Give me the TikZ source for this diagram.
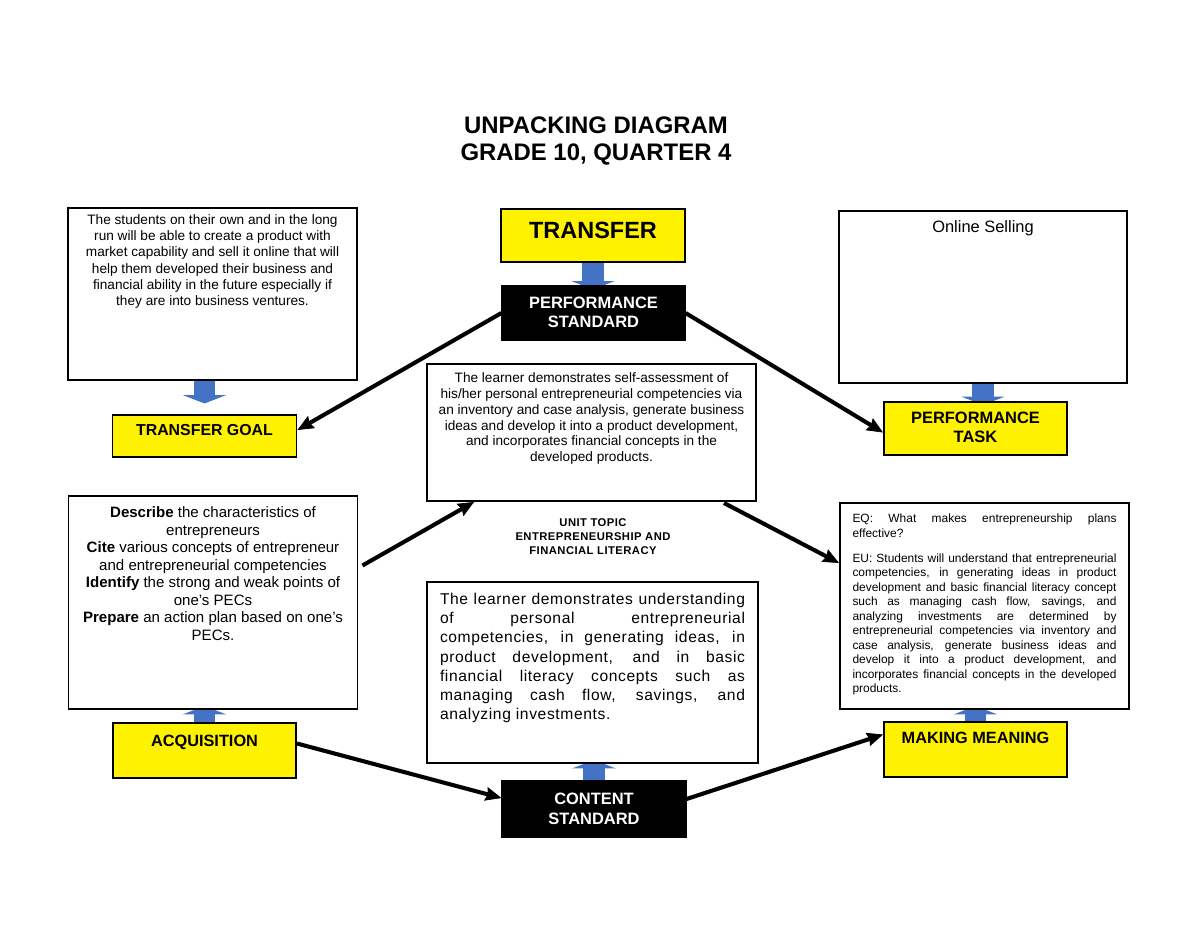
\documentclass[tikz,border=0pt]{standalone}
\usepackage{fontspec}
\setmainfont{Liberation Sans}
\newfontfamily\spacedsans[LetterSpace=4]{Liberation Sans}
\usetikzlibrary{arrows.meta,calc,backgrounds}
\definecolor{arrowblue}{HTML}{4472C4}
\newdimen\pxu \pxu=0.025cm
\newcommand{\inbox}[4]{\parbox[c][#2\pxu][t]{#1\pxu}{\vspace*{#3pt}#4}}
\newcommand{\jline}[1]{\makebox[\linewidth][s]{#1}\\}
\begin{document}
\begin{tikzpicture}[
	x=0.025cm, y=-0.025cm,
	thick
]
\tikzset{
    txtbox/.style = {draw=black, line width=1.4pt, fill=white, inner sep=0pt},
    ylwbox/.style = {draw=black, line width=1.4pt, fill=yellow, inner sep=0pt, font=\fontsize{11.6}{13.5}\selectfont\bfseries},
    blkbox/.style = {draw=black, fill=black, text=white, inner sep=0pt, font=\fontsize{11.7}{13.8}\selectfont\bfseries},
    blkarr/.style = {-{Stealth[length=11.5pt,width=10pt,inset=1.5pt,line width=0.5pt]}, line width=2.9pt},
    bluearr/.style = {-{Triangle[length=6pt,width=31pt,line width=0pt]}, line width=15.6pt, draw=arrowblue},
}
\useasboundingbox (0,0) rectangle (1200,927);
\begin{scope}[on background layer]
\fill[white] (0,0) rectangle (1200,927);
\end{scope}
%
\node[font=\fontsize{17}{18.5}\selectfont\bfseries, align=center] at (596,141) (title) {UNPACKING DIAGRAM\\GRADE 10, QUARTER 4};
%
\node[txtbox, font=\fontsize{9.7}{11.5}\selectfont] at (212.5,294) (goal) {\inbox{289}{172}{4.8}{\centering The students on their own and in the long\\run will be able to create a product with\\market capability and sell it online that will\\help them developed their business and\\financial ability in the future especially if\\they are into business ventures.}};
\node[ylwbox, font=\fontsize{11.3}{13.5}\selectfont\bfseries] at (204.5,436) (tgoal) {\inbox{184}{42}{7}{\centering TRANSFER GOAL}};
\node[ylwbox, font=\fontsize{16.7}{19}\selectfont\bfseries] at (593,235.5) (transfer) {\inbox{184}{53}{9}{\centering TRANSFER}};
\node[blkbox] at (593.5,313) (ps) {\inbox{183}{54}{7.8}{\centering PERFORMANCE\\STANDARD}};
\node[txtbox, font=\fontsize{9.7}{11.2}\selectfont] at (591.5,432.5) (ptext) {\inbox{329}{137}{6.4}{\centering The learner demonstrates self-assessment of\\his/her personal entrepreneurial competencies via\\an inventory and case analysis, generate business\\ideas and develop it into a product development,\\and incorporates financial concepts in the\\developed products.}};
\node[txtbox, font=\fontsize{11.7}{13.5}\selectfont] at (983,297) (online) {\inbox{288}{172}{7}{\centering Online Selling}};
\node[ylwbox, font=\fontsize{11.7}{13.5}\selectfont\bfseries] at (975.5,428.5) (ptask) {\inbox{183}{53}{7}{\centering PERFORMANCE\\TASK}};
%
\node[txtbox, font=\fontsize{10.7}{12.45}\selectfont] at (213,602.5) (acqtext) {\inbox{289}{213}{7.8}{\centering \textbf{Describe} the characteristics of\\entrepreneurs\\\textbf{Cite} various concepts of entrepreneur\\and entrepreneurial competencies\\\textbf{Identify} the strong and weak points of\\one's PECs\\\textbf{Prepare} an action plan based on one's\\PECs.}};
\node[ylwbox] at (204.5,750.5) (acq) {\inbox{183}{55}{8.5}{\centering ACQUISITION}};
\node[font=\spacedsans\fontsize{8}{10}\selectfont\bfseries, align=center] at (593,537) (unit) {UNIT TOPIC\\ENTREPRENEURSHIP AND\\FINANCIAL LITERACY};
\node[txtbox, font=\spacedsans\fontsize{11.1}{13.7}\selectfont] at (592.5,672.5) (ctext) {\inbox{331}{181}{7.8}{\centering\parbox[t]{305\pxu}{\jline{The learner demonstrates understanding}\jline{of personal entrepreneurial}\jline{competencies, in generating ideas, in}\jline{product development, and in basic}\jline{financial literacy concepts such as}\jline{managing cash flow, savings, and}analyzing investments.}}};
\node[blkbox, font=\fontsize{11.7}{14.2}\selectfont\bfseries] at (594,809) (cs) {\inbox{184}{56}{8.5}{\centering CONTENT\\STANDARD}};
\node[txtbox, font=\fontsize{8.5}{10.3}\selectfont] at (984.5,606) (eq) {\inbox{289}{206}{7.8}{\centering\parbox[t]{264\pxu}{\jline{EQ: What makes entrepreneurship plans}effective?\par\vspace{7.5pt}\jline{EU: Students will understand that entrepreneurial}\jline{competencies, in generating ideas in product}\jline{development and basic financial literacy concept}\jline{such as managing cash flow, savings, and}\jline{analyzing investments are determined by}\jline{entrepreneurial competencies via inventory and}\jline{case analysis, generate business ideas and}\jline{develop it into a product development, and}\jline{incorporates financial concepts in the developed}products.}}};
\node[ylwbox] at (975.5,749.5) (mm) {\inbox{183}{55}{7}{\centering MAKING MEANING}};
%
\begin{scope}[on background layer]
\draw[bluearr, shorten >=7.5pt] (goal.south -| tgoal.north) -- (tgoal.north);
\draw[bluearr] (transfer.south) -- ($(transfer.south |- ps.north)+(0,4)$);
\draw[bluearr] (online.south) -- ($(online.south |- ptask.north)+(0,4)$);
\draw[bluearr] (acq.north) -- ($(acq.north |- acqtext.south)+(0,-4)$);
\draw[bluearr] (cs.north) -- ($(cs.north |- ctext.south)+(0,-4)$);
\draw[bluearr] (mm.north) -- ($(mm.north |- eq.south)+(0,-4)$);
\end{scope}
%
\draw[blkarr] (ps.west) -- ($(tgoal.east)+(0,-6)$);
\draw[blkarr] (ps.east) -- ($(ptask.west)+(0,4)$);
\draw[blkarr] ($(acqtext.east)+(4,-37)$) -- ($(ptext.south west)+(48,0)$);
\draw[blkarr] ($(ptext.south east)+(-33,1)$) -- ($(eq.west)+(0,-43)$);
\draw[blkarr] ($(acq.east)+(0,-7)$) -- ($(cs.west)+(0,-11)$);
\draw[blkarr] ($(cs.east)+(0,-10)$) -- ($(mm.west)+(0,-15)$);
\end{tikzpicture}
\end{document}
